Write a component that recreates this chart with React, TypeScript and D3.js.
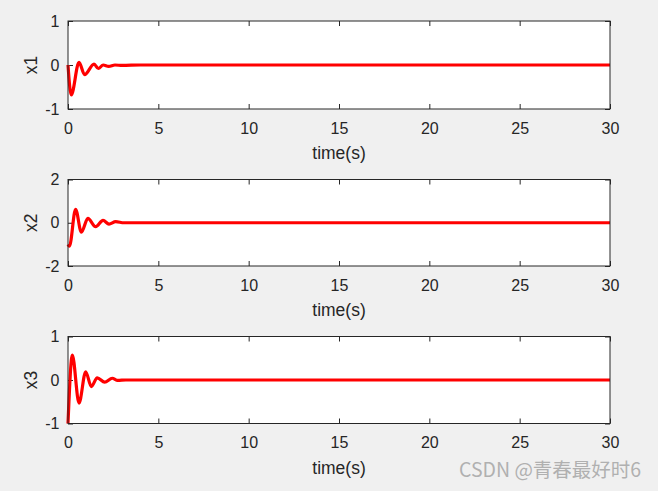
import React, { useEffect, useRef } from "react";
import * as d3 from "d3";

// transient responses (time in s)
const t1 = [0, 0.18, 0.61, 0.92, 1.44, 1.68, 1.95, 2.25, 2.6, 3.0, 4, 30];
const x1 = [0, -0.68, 0.06, -0.22, 0.02, -0.08, 0.0, -0.03, 0.0, -0.01, 0, 0];

const t2 = [0, 0.08, 0.42, 0.74, 1.1, 1.53, 1.94, 2.27, 2.64, 3.1, 4, 30];
const x2 = [-1.0, -1.08, 0.62, -0.44, 0.2, -0.18, 0.11, -0.06, 0.05, 0.0, 0, 0];

const t3 = [0, 0.24, 0.61, 0.98, 1.29, 1.62, 2.03, 2.45, 2.75, 3.2, 4, 30];
const x3 = [-1, 0.57, -0.53, 0.19, -0.15, 0.05, -0.05, 0.04, -0.01, 0, 0, 0];

const xTicks = [0, 5, 10, 15, 20, 25, 30];
const yTicks1 = [-1, 0, 1];
const yTicks2 = [-2, 0, 2];
const yTicks3 = [-1, 0, 1];

const panels = [
  { label: "x1", t: t1, v: x1, ticks: yTicks1, top: 21, bottom: 109 },
  { label: "x2", t: t2, v: x2, ticks: yTicks2, top: 179.5, bottom: 266 },
  { label: "x3", t: t3, v: x3, ticks: yTicks3, top: 336.5, bottom: 423.5 },
];

const W = 658;
const H = 491;
const LEFT = 68;
const RIGHT = 610;
const INK = "#262626";
const FONT = "Arial, 'Liberation Sans', Helvetica, sans-serif";

export default function App() {
  const ref = useRef<SVGSVGElement | null>(null);

  useEffect(() => {
    const svg = d3.select(ref.current as any);
    svg.selectAll("*").remove();

    svg.append("rect").attr("width", W).attr("height", H).attr("fill", "#f0f0f0");

    panels.forEach((p) => {
      const x = d3.scaleLinear().domain([0, 30]).range([LEFT, RIGHT]);
      const y = d3.scaleLinear().domain(d3.extent(p.ticks) as [number, number]).range([p.bottom, p.top]);
      const g = svg.append("g");

      g.append("rect")
        .attr("x", LEFT).attr("y", p.top)
        .attr("width", RIGHT - LEFT).attr("height", p.bottom - p.top)
        .attr("fill", "#fff");

      const styleAxis = (sel: any) => {
        sel.select(".domain").remove();
        sel.selectAll("line").attr("stroke", INK).attr("stroke-width", 1);
        sel.selectAll("text").attr("fill", INK).style("font-family", FONT).style("font-size", "16px");
      };

      g.append("g").attr("transform", `translate(0,${p.bottom})`)
        .call(d3.axisBottom(x).tickValues(xTicks).tickSize(-5).tickPadding(13.5).tickFormat((d) => String(d)))
        .call(styleAxis);
      g.append("g").attr("transform", `translate(0,${p.top})`)
        .call(d3.axisTop(x).tickValues(xTicks).tickSize(-5).tickFormat(() => ""))
        .call(styleAxis);
      g.append("g").attr("transform", `translate(${LEFT},0)`)
        .call(d3.axisLeft(y).tickValues(p.ticks).tickSize(-5).tickPadding(8.5).tickFormat((d) => String(d)))
        .call(styleAxis);
      g.append("g").attr("transform", `translate(${RIGHT},0)`)
        .call(d3.axisRight(y).tickValues(p.ticks).tickSize(-5).tickFormat(() => ""))
        .call(styleAxis);

      const line = d3.line<number>()
        .x((_, i) => x(p.t[i]))
        .y((d) => y(d))
        .curve(d3.curveMonotoneX);

      g.append("path")
        .datum(p.v)
        .attr("d", line)
        .attr("fill", "none")
        .attr("stroke", "#ff0000")
        .attr("stroke-width", 3.2)
        .attr("stroke-linejoin", "round");

      g.append("rect")
        .attr("x", LEFT).attr("y", p.top)
        .attr("width", RIGHT - LEFT).attr("height", p.bottom - p.top)
        .attr("fill", "none").attr("stroke", INK).attr("stroke-width", 1);

      g.append("text")
        .attr("transform", `translate(31,${(p.top + p.bottom) / 2}) rotate(-90)`)
        .attr("text-anchor", "middle")
        .attr("dy", "0.35em")
        .attr("fill", INK)
        .style("font-family", FONT)
        .style("font-size", "17.5px")
        .text(p.label);

      g.append("text")
        .attr("x", (LEFT + RIGHT) / 2)
        .attr("y", p.bottom + 44)
        .attr("dy", "0.35em")
        .attr("text-anchor", "middle")
        .attr("fill", INK)
        .style("font-family", FONT)
        .style("font-size", "17.5px")
        .text("time(s)");
    });

    svg.append("text")
      .attr("x", 459)
      .attr("y", 477)
      .attr("fill", "#b0b0b0")
      .style("font-family", "'Noto Sans CJK SC', sans-serif")
      .style("font-size", "19.5px")
      .text("CSDN @青春最好时6");
  }, []);

  return (
    <div style={{ position: "fixed", left: 0, top: 0 }}>
      <svg ref={ref} width={W} height={H} style={{ display: "block" }} />
    </div>
  );
}
